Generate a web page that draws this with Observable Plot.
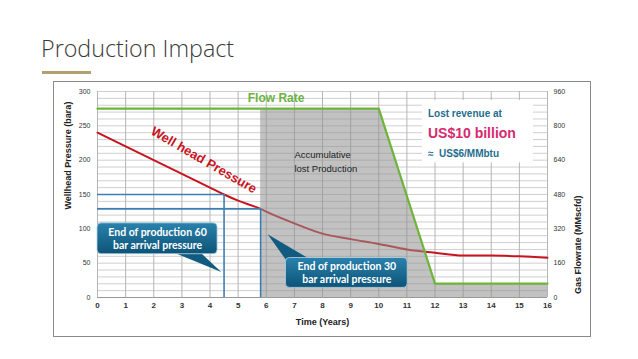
<!DOCTYPE html>
<html>
<head>
<meta charset="utf-8">
<script src="https://cdn.jsdelivr.net/npm/d3@7"></script>
<script src="https://cdn.jsdelivr.net/npm/@observablehq/plot@0.6"></script>
<style>
  html, body { margin: 0; padding: 0; background: #fff; }
  #wrap { position: relative; width: 638px; height: 359px; overflow: hidden; }
  #title { position: absolute; left: 41px; top: 36px; font: 300 23.3px/24px "Open Sans", sans-serif; color: #3a3a3a; white-space: nowrap; }
  #bar { position: absolute; left: 42px; top: 71px; width: 49px; height: 3px; background: #b49f6e; }
  #frame { position: absolute; left: 53px; top: 81px; width: 536px; height: 254px; border: 1px solid #8a8a8a; pointer-events: none; }
  #chart { position: absolute; left: 0; top: 0; }
</style>
</head>
<body>
<svg width="0" height="0" style="position:absolute">
  <defs>
    <linearGradient id="cg" x1="0" y1="0" x2="0" y2="1">
      <stop offset="0" stop-color="#2a82ad"/>
      <stop offset="1" stop-color="#0d5377"/>
    </linearGradient>
  </defs>
</svg>
<div id="wrap">
  <div id="chart"></div>
  <div id="title">Production Impact</div>
  <div id="bar"></div>
  <div id="frame"></div>
</div>
<script>
// Wellhead pressure (bara) by year
const years    = [0, 1, 2, 3, 4, 4.5, 5, 5.8, 6, 7, 8, 9, 10, 11, 12, 13, 14, 15, 16];
const pressure = [240, 220, 200, 180, 160, 150, 141, 129, 125, 108, 93, 85, 78, 70, 65, 61, 61, 60, 58];

// Gas flow rate (MMscfd)
const flowYears = [0, 10, 12, 16];
const flowRate  = [880, 880, 65, 65];

// Lost production region (MMscfd)
const lostYears = [5.8, 10, 12, 16];
const lostFlow  = [880, 880, 65, 65];

// Arrival-pressure guide lines
const guideYears     = [4.5, 5.8];
const guidePressures = [150, 129];

// Axis ticks
const xTicks = d3.range(0, 17);
const yTicks = [0, 50, 100, 150, 200, 250, 300];
const flowPerBara = 960 / 300;

// Callouts
const callouts = [
  {id: "c60", x1: 0, x2: 4.27, y1: 63, y2: 108, lines: ["End of production 60", "bar arrival pressure"]},
  {id: "c30", x1: 6.7, x2: 11.03, y1: 14, y2: 57.5, lines: ["End of production 30", "bar arrival pressure"]}
];
const tails = [
  {id: "c60", x: 2.8, y: 64}, {id: "c60", x: 3.7, y: 64}, {id: "c60", x: 4.4, y: 37},
  {id: "c30", x: 6.75, y: 52}, {id: "c30", x: 7.5, y: 57}, {id: "c30", x: 6.05, y: 92}
];

const pData = years.map((x, i) => ({x, y: pressure[i]}));
const fData = flowYears.map((x, i) => ({x, y: flowRate[i] / flowPerBara}));
const lData = lostYears.map((x, i) => ({x, y: lostFlow[i] / flowPerBara}));
const calloutText = callouts.flatMap(c => c.lines.map((t, j) => ({
  x: (c.x1 + c.x2) / 2, y: (c.y1 + c.y2) / 2 + (j === 0 ? 1 : -1) * (c.y2 - c.y1) * 0.21, t
})));

const chart = Plot.plot({
  width: 638,
  height: 359,
  marginLeft: 97,
  marginRight: 91,
  marginTop: 91,
  marginBottom: 62,
  style: {fontFamily: "'Liberation Sans', Arial, sans-serif", fontSize: "7px", color: "#333", background: "transparent"},
  x: {domain: [0, 16]},
  y: {domain: [0, 300]},
  marks: [
    Plot.ruleY(d3.range(0, 301, 10), {stroke: "#cfcfcf", strokeWidth: 1}),
    Plot.ruleX(xTicks, {stroke: "#b5b5b5", strokeWidth: 1}),
    Plot.ruleY([0], {stroke: "#999"}),
    Plot.line(pData, {x: "x", y: "y", stroke: "#c8141e", strokeWidth: 2, curve: "monotone-x"}),
    Plot.areaY(lData, {x: "x", y1: 0, y2: "y", fill: "#8f8f8f", fillOpacity: 0.55}),
    // guide lines
    Plot.ruleY(guidePressures, {x1: 0, x2: (d, i) => guideYears[i], stroke: "#3d7fb2", strokeWidth: 1.6}),
    Plot.ruleX(guideYears, {y1: 0, y2: (d, i) => guidePressures[i], stroke: "#3d7fb2", strokeWidth: 1.6}),
    Plot.line(fData, {x: "x", y: "y", stroke: "#6fb43a", strokeWidth: 2.2}),
    // axes
    Plot.axisX({ticks: xTicks, tickFormat: d => d, tickSize: 0, tickPadding: 5, fontSize: 8, fontWeight: "bold", label: null}),
    Plot.axisY({anchor: "left", ticks: yTicks, tickSize: 0, tickPadding: 7, label: null}),
    Plot.axisY({anchor: "right", ticks: yTicks, tickFormat: d => d * flowPerBara, tickSize: 0, tickPadding: 6, label: null}),
    Plot.text(["Time (Years)"], {frameAnchor: "bottom", dy: 27, fontSize: 9, fontWeight: "bold", fill: "#222"}),
    Plot.text(["Wellhead Pressure (bara)"], {frameAnchor: "left", dx: -29, dy: 15, rotate: -90, fontSize: 9, fontWeight: "bold", fill: "#222"}),
    Plot.text(["Gas Flowrate (MMscfd)"], {frameAnchor: "right", dx: 31, dy: 1, rotate: -90, fontSize: 9, fontWeight: "bold", fill: "#222"}),
    // series labels
    Plot.text(["Flow Rate"], {x: 6.35, y: 291, fontSize: 12, fontWeight: "bold", fill: "#6cb33f"}),
    Plot.text(["Well head Pressure"], {x: 3.78, y: 200, rotate: 30, fontSize: 13, fontWeight: "bold", fill: "#c8141e"}),
    Plot.text(["Accumulative", "lost Production"], {x: 7.0, y: (d, i) => i === 0 ? 207 : 187, textAnchor: "start", fontSize: 9.5, fill: "#222"}),
    // revenue box
    Plot.rect([0], {x1: 11.55, x2: 15.5, y1: 196, y2: 287, fill: "#fff"}),
    Plot.text(["Lost revenue at"], {x: 11.75, y: 268, textAnchor: "start", fontSize: 10, fontWeight: "bold", fill: "#1e6d8e"}),
    Plot.text(["US$10 billion"], {x: 11.75, y: 239, textAnchor: "start", fontSize: 14, fontWeight: "bold", fill: "#d62a6e"}),
    Plot.text(["≈  US$6/MMbtu"], {x: 11.75, y: 210, textAnchor: "start", fontSize: 10, fontWeight: "bold", fill: "#1e6d8e"}),
    // callouts
    Plot.line(tails, {x: "x", y: "y", z: "id", fill: "#115b80", stroke: "none", curve: "linear-closed"}),
    Plot.rect(callouts, {x1: "x1", x2: "x2", y1: "y1", y2: "y2", fill: "url(#cg)", stroke: "#b9d3e2", strokeWidth: 0.8, rx: 4}),
    Plot.text(calloutText, {x: "x", y: "y", text: "t", fill: "#fff", fontSize: 10.5, fontWeight: "bold", fontFamily: "Lato, 'Open Sans', sans-serif"})
  ]
});
document.getElementById("chart").appendChild(chart);
</script>
</body>
</html>
